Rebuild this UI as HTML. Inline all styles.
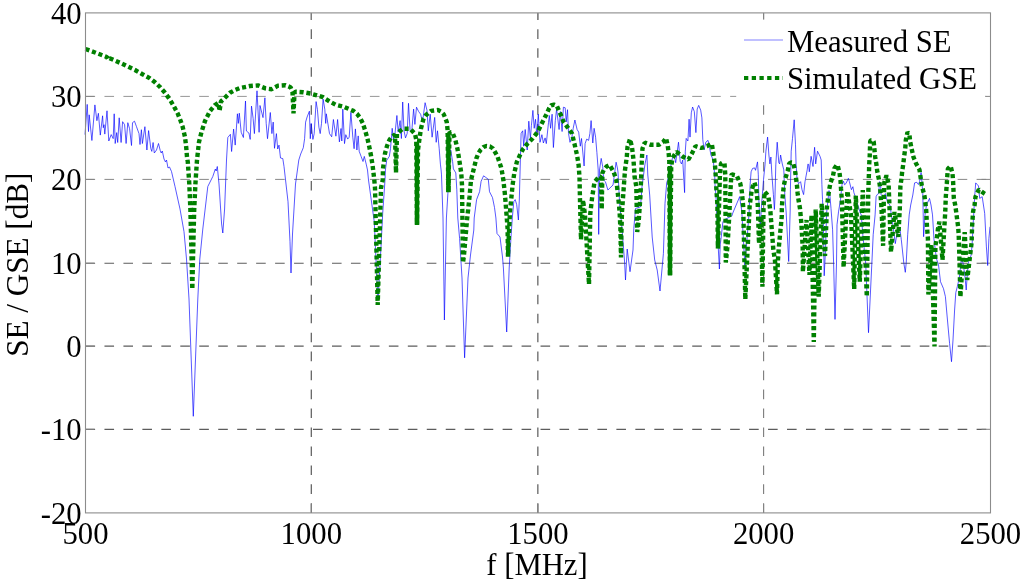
<!DOCTYPE html>
<html lang="en"><head><meta charset="utf-8"><title>SE / GSE plot</title>
<style>html,body{margin:0;padding:0;background:#fff}body{width:1024px;height:586px;overflow:hidden}svg{display:block}text{font-family:"Liberation Serif","Times New Roman",Times,serif;font-size:30.7px;fill:#000}</style>
</head><body>
<svg width="1024" height="586" viewBox="0 0 1024 586">
<rect width="1024" height="586" fill="#fff"/>
<g stroke="#5c5c5c" stroke-width="1.22" fill="none" stroke-dasharray="9.6 9.36">
<path d="M85.5 96.40 H990.5" stroke="#969696" stroke-width="1"/>
<path d="M85.5 179.40 H990.5" stroke="#888888" stroke-width="1"/>
<path d="M85.5 263.25 H990.5"/>
<path d="M85.5 346.20 H990.5"/>
<path d="M85.5 429.30 H990.5"/>
<path d="M311.30 512.9 V12.9"/>
<path d="M537.85 512.9 V12.9"/>
<path d="M763.60 512.9 V12.9" stroke="#7c7c7c" stroke-width="1.1"/>
</g>
<g stroke="#848484" stroke-width="1" fill="none">
<path d="M85.5 96.4 h9 M990.5 96.4 h-9"/>
<path d="M85.5 179.4 h9 M990.5 179.4 h-9"/>
<path d="M85.5 263.2 h9 M990.5 263.2 h-9"/>
<path d="M85.5 346.2 h9 M990.5 346.2 h-9"/>
<path d="M85.5 429.3 h9 M990.5 429.3 h-9"/>
<path d="M311.3 512.9 v-9 M311.3 12.9 v7"/>
<path d="M537.9 512.9 v-9 M537.9 12.9 v7"/>
<path d="M763.6 512.9 v-9 M763.6 12.9 v7"/>
</g>
<path id="measured" d="M85.0 134.6 L87.2 104.4 L88.5 131.6 L89.2 114.8 L91.9 140.5 L94.9 104.9 L96.9 120.7 L98.4 113.3 L100.3 135.1 L102.6 115.8 L103.3 127.7 L104.0 124.7 L104.8 134.1 L107.0 110.8 L108.8 141.0 L111.2 134.6 L113.2 138.6 L114.2 113.8 L115.2 143.5 L116.7 132.6 L117.7 142.5 L119.2 117.8 L121.1 142.5 L122.6 121.7 L124.6 124.7 L126.1 143.5 L127.8 122.7 L129.6 128.7 L131.5 145.5 L132.5 122.7 L134.5 121.2 L136.5 126.7 L139.0 133.6 L140.0 144.5 L141.4 129.7 L142.4 143.5 L144.9 126.7 L146.9 150.0 L148.6 130.6 L150.8 148.5 L151.8 151.4 L153.1 142.5 L154.3 153.0 L156.5 150.0 L158.5 143.5 L160.2 150.4 L161.2 153.0 L162.3 151.0 L164.0 159.0 L165.5 162.0 L166.5 160.0 L168.0 168.0 L169.5 167.0 L171.5 171.5 L175.0 186.5 L180.0 209.0 L184.0 231.7 L186.5 259.0 L189.0 299.0 L193.3 416.3 L197.8 299.0 L199.8 259.0 L202.8 229.0 L207.8 186.5 L212.8 176.5 L215.3 169.0 L216.2 171.0 L217.3 166.5 L219.0 184.0 L221.6 224.0 L222.8 233.0 L224.6 209.0 L226.5 160.0 L227.8 137.5 L230.4 134.3 L231.6 151.5 L233.6 129.1 L235.2 145.1 L237.4 113.8 L238.3 123.4 L239.3 113.2 L241.2 132.3 L243.4 137.5 L245.5 101.0 L246.4 131.0 L248.9 133.0 L250.2 139.4 L251.5 106.1 L253.1 118.3 L254.4 133.6 L257.0 90.8 L259.1 132.3 L260.0 105.5 L263.0 117.6 L264.9 97.8 L266.2 123.4 L267.5 138.7 L270.3 112.5 L271.9 133.6 L273.2 122.1 L274.5 148.3 L276.4 133.6 L277.7 149.0 L279.0 145.1 L280.5 158.0 L282.8 158.6 L284.0 166.5 L288.0 201.6 L290.0 241.7 L291.0 273.0 L292.5 234.0 L295.5 184.0 L298.8 160.0 L300.7 154.0 L303.3 147.7 L304.6 138.7 L305.6 122.1 L307.1 117.0 L309.4 111.2 L310.3 138.7 L311.2 123.4 L312.9 139.4 L314.2 133.6 L316.1 101.6 L317.4 109.3 L318.9 127.2 L320.2 133.6 L321.5 123.4 L323.1 99.1 L324.8 109.3 L325.7 123.4 L326.3 113.8 L329.5 133.6 L331.7 136.8 L333.4 119.5 L335.9 136.2 L337.6 119.5 L339.4 141.9 L341.0 128.5 L341.8 141.0 L342.8 109.1 L344.5 143.6 L345.8 134.7 L347.7 139.1 L349.2 137.2 L350.9 112.3 L352.8 137.2 L354.1 148.7 L355.4 128.9 L356.9 150.0 L358.2 135.9 L359.2 151.3 L361.1 156.4 L363.0 161.5 L364.3 156.4 L366.2 164.1 L367.5 170.0 L368.5 180.0 L374.3 222.0 L376.8 278.0 L378.0 300.0 L379.3 278.0 L381.0 247.0 L382.7 213.4 L385.0 180.0 L385.4 170.0 L386.7 160.3 L389.3 156.4 L390.5 148.7 L392.2 128.3 L393.5 139.8 L395.0 133.4 L396.9 115.5 L398.2 132.1 L400.1 120.6 L401.4 138.5 L402.7 102.0 L404.0 130.8 L405.5 137.9 L407.2 133.4 L408.5 103.3 L410.1 130.8 L411.7 132.1 L413.6 109.1 L414.9 124.4 L416.5 107.2 L418.7 111.6 L420.6 114.2 L422.5 121.9 L425.1 102.7 L427.0 110.4 L428.3 130.8 L430.2 114.2 L432.1 137.2 L434.7 117.4 L436.2 142.3 L437.5 130.8 L439.2 148.7 L440.4 164.1 L441.1 170.0 L441.5 174.9 L443.0 218.0 L444.4 320.0 L446.4 218.0 L447.9 193.4 L449.4 170.0 L450.7 150.0 L452.6 161.5 L453.4 168.9 L455.8 172.9 L456.8 189.7 L457.8 218.0 L459.6 238.5 L462.0 278.0 L464.6 357.8 L468.0 278.0 L470.5 255.0 L473.8 230.0 L474.2 218.0 L476.6 199.6 L479.6 191.7 L481.1 181.3 L483.6 175.8 L485.6 177.3 L488.3 179.3 L489.5 191.7 L492.5 197.6 L494.5 207.5 L495.9 218.0 L497.0 233.5 L500.0 237.0 L502.5 257.0 L503.4 268.0 L506.7 332.0 L509.2 268.0 L511.0 237.0 L512.3 218.0 L513.8 201.6 L515.2 199.6 L516.7 204.6 L518.4 220.0 L519.3 200.0 L520.1 170.0 L521.1 133.4 L522.7 130.8 L523.7 146.2 L525.2 129.5 L527.2 150.0 L528.8 121.2 L530.4 138.5 L531.4 125.7 L532.9 110.4 L534.2 128.3 L535.5 119.3 L536.8 135.9 L538.3 114.2 L540.0 142.3 L541.9 134.7 L543.4 143.0 L545.1 137.9 L546.3 143.6 L548.5 122.5 L549.3 115.5 L550.6 128.3 L552.1 114.2 L553.4 147.5 L555.3 120.6 L556.6 109.1 L559.1 129.5 L560.4 111.6 L562.1 131.5 L563.4 107.2 L565.2 107.8 L566.2 121.9 L567.5 109.7 L568.5 133.4 L570.0 142.3 L571.9 137.2 L573.2 128.3 L574.9 120.0 L577.1 129.5 L578.7 132.1 L580.3 146.2 L581.5 138.5 L584.1 166.0 L585.1 143.6 L586.7 139.1 L588.6 140.4 L589.9 133.4 L591.1 120.6 L592.8 143.0 L594.1 128.3 L595.6 137.2 L596.9 152.6 L598.2 170.0 L598.7 234.4 L599.5 170.0 L601.2 158.4 L602.7 166.7 L603.7 180.0 L605.4 181.7 L607.9 190.0 L613.0 185.0 L614.6 173.3 L616.1 162.2 L617.4 168.0 L618.0 172.0 L619.6 203.4 L622.0 228.5 L624.6 262.0 L625.5 280.0 L627.2 249.0 L630.0 271.7 L633.0 250.0 L633.8 228.5 L635.5 208.5 L640.5 206.8 L642.0 186.7 L645.0 164.0 L646.9 155.0 L647.8 175.0 L649.7 195.0 L652.2 237.0 L654.7 260.0 L657.2 270.0 L660.0 291.0 L663.4 253.6 L665.0 203.4 L666.7 183.0 L669.0 175.0 L671.0 165.0 L672.5 157.6 L674.4 156.3 L675.7 162.7 L678.5 142.2 L680.2 161.4 L681.5 164.0 L682.7 160.1 L684.6 192.6 L685.3 151.2 L686.2 138.4 L687.9 141.0 L689.1 119.2 L690.0 137.1 L691.3 112.8 L692.6 107.0 L694.3 111.5 L695.9 132.6 L697.2 109.0 L698.7 105.4 L700.7 110.2 L701.9 117.9 L702.8 139.7 L704.1 149.9 L705.8 142.2 L708.0 140.3 L709.6 147.3 L710.9 155.0 L712.2 157.6 L713.5 162.7 L714.7 175.0 L715.0 184.7 L716.0 196.6 L717.7 237.0 L719.4 269.0 L720.2 245.0 L720.9 239.7 L722.9 221.9 L724.9 219.4 L731.8 216.0 L732.8 213.0 L739.7 196.6 L740.7 204.5 L741.7 210.0 L744.9 265.4 L749.1 213.0 L750.1 184.7 L751.1 171.8 L752.6 168.4 L754.6 167.9 L755.5 170.3 L757.5 161.9 L758.3 174.8 L759.0 205.0 L760.3 226.0 L761.7 203.4 L763.5 179.8 L765.0 164.9 L765.9 151.2 L767.6 137.1 L768.9 155.0 L769.9 163.9 L770.9 157.0 L771.9 174.8 L773.4 194.6 L774.4 209.5 L774.9 199.6 L775.8 164.9 L777.2 142.2 L778.8 162.7 L779.6 163.9 L780.6 155.0 L782.3 164.0 L783.8 169.9 L784.8 194.6 L786.2 213.0 L788.7 261.5 L790.2 210.0 L790.4 189.7 L791.2 151.2 L792.5 138.4 L794.2 119.8 L795.5 144.8 L796.1 165.0 L797.1 179.8 L798.6 183.7 L800.6 181.7 L802.0 189.7 L803.6 194.6 L805.0 181.7 L807.2 169.9 L807.9 164.0 L808.6 164.4 L809.3 171.8 L811.1 156.3 L813.0 166.5 L814.6 147.3 L815.7 163.9 L817.5 151.2 L820.0 156.3 L821.2 160.0 L821.9 184.7 L822.5 199.6 L823.2 213.0 L824.2 275.8 L825.5 250.0 L826.6 213.0 L828.0 199.6 L829.0 190.6 L830.0 196.6 L831.0 208.5 L832.6 229.8 L833.6 263.0 L835.0 319.4 L836.5 263.0 L837.0 224.8 L838.5 211.9 L840.5 199.6 L842.0 184.7 L843.5 181.2 L844.5 184.7 L846.0 183.5 L848.4 178.3 L849.4 181.7 L851.4 189.7 L852.9 186.7 L853.9 192.6 L855.3 196.6 L858.3 206.5 L860.3 213.0 L861.3 214.9 L862.8 234.7 L864.3 249.6 L865.7 263.0 L868.5 332.7 L872.0 260.0 L873.2 234.7 L875.1 214.9 L876.1 196.6 L877.1 194.6 L878.6 193.6 L879.6 181.7 L880.6 184.7 L881.1 194.6 L883.0 197.0 L885.5 193.6 L887.5 202.5 L889.9 205.0 L892.9 224.8 L895.3 243.6 L896.8 234.7 L899.8 227.8 L901.3 239.7 L903.8 263.0 L905.3 272.3 L906.2 263.0 L907.7 234.7 L909.2 214.9 L910.7 205.0 L912.8 195.0 L914.6 182.9 L916.8 182.3 L918.4 184.5 L919.5 181.8 L921.1 172.5 L921.9 181.8 L922.8 193.4 L923.6 236.7 L925.0 214.9 L926.5 205.0 L929.5 198.4 L931.0 205.0 L932.5 214.9 L934.0 239.7 L936.4 258.5 L938.5 264.9 L940.5 281.7 L943.5 288.7 L945.4 296.6 L947.0 315.0 L949.6 343.6 L951.5 361.7 L953.0 340.0 L954.6 310.0 L955.8 292.6 L957.3 286.7 L959.3 277.8 L961.3 260.0 L962.8 262.0 L964.8 274.8 L966.2 290.0 L968.2 263.0 L971.2 255.0 L972.1 244.6 L973.1 224.8 L974.7 196.7 L975.7 182.9 L977.2 184.5 L978.5 186.0 L979.7 198.4 L982.2 196.7 L984.7 213.4 L986.4 246.9 L987.7 265.5 L988.9 238.5 L990.0 226.8" fill="none" stroke="#0000ff" stroke-width="0.66" stroke-linejoin="round"/>
<path id="simulated" d="M85.5 49.0 L95.0 52.5 L105.0 56.3 L107.0 57.2 L108.3 59.6 L109.6 58.2 L120.0 62.8 L135.0 70.0 L142.0 74.0 L150.0 78.4 L155.0 82.3 L160.0 87.0 L165.0 92.8 L170.0 99.7 L174.0 106.5 L177.7 113.5 L180.5 120.5 L182.7 127.0 L185.0 137.0 L186.2 147.0 L187.0 157.0 L187.8 162.0 L189.3 184.0 L190.4 210.0 L191.4 250.0 L192.3 289.3 L193.2 250.0 L194.2 210.0 L195.4 184.0 L197.0 160.0 L199.0 142.0 L201.5 132.0 L205.0 121.0 L210.0 111.0 L215.0 105.0 L218.3 102.8 L219.6 111.0 L220.9 101.5 L223.0 99.7 L230.0 92.7 L235.0 90.0 L240.0 88.0 L250.0 86.0 L258.0 85.4 L265.5 88.4 L271.7 89.2 L278.0 85.7 L285.5 85.2 L290.5 87.2 L292.5 92.0 L293.5 113.5 L294.5 93.0 L295.5 91.7 L303.0 92.2 L310.5 93.5 L323.0 97.2 L330.0 101.7 L335.6 104.7 L343.4 106.7 L353.4 110.9 L357.0 113.8 L360.0 117.6 L362.7 123.0 L365.0 130.0 L367.3 138.0 L369.3 146.9 L371.0 155.5 L372.6 165.3 L374.3 180.0 L375.0 188.0 L377.7 305.0 L381.0 188.0 L382.7 180.0 L383.0 168.6 L385.0 153.5 L387.0 146.0 L389.4 140.0 L392.0 136.5 L395.0 134.5 L396.0 172.8 L397.0 133.5 L402.7 128.8 L410.3 128.8 L415.0 133.8 L416.3 140.0 L417.0 225.0 L418.0 150.0 L419.5 138.5 L421.0 128.5 L423.6 118.4 L426.0 115.0 L431.0 110.9 L437.9 110.0 L441.0 111.5 L443.7 114.2 L446.7 121.8 L447.6 130.0 L448.4 192.5 L449.5 132.0 L453.0 133.8 L455.4 140.0 L457.4 148.5 L459.6 162.0 L461.3 173.6 L462.0 185.0 L463.0 262.8 L464.0 255.0 L467.0 220.0 L469.5 197.0 L471.0 180.0 L473.0 172.0 L476.3 158.6 L478.3 153.5 L480.5 150.0 L483.5 147.0 L486.4 146.0 L490.0 146.5 L493.0 148.5 L497.3 156.0 L501.0 167.0 L501.7 170.0 L503.4 180.3 L505.0 195.0 L507.6 228.5 L508.0 256.7 L508.4 245.0 L510.0 211.8 L512.6 185.0 L514.2 173.6 L516.8 162.0 L520.0 155.0 L523.4 148.5 L527.6 143.5 L532.6 138.5 L537.7 131.8 L541.8 123.4 L546.9 113.4 L549.0 108.5 L551.0 105.4 L554.0 104.6 L556.9 105.9 L560.2 113.4 L563.6 121.8 L567.8 127.6 L572.0 133.5 L574.4 143.5 L577.0 155.0 L578.6 165.0 L579.5 177.0 L580.0 200.0 L581.0 239.4 L583.0 200.0 L585.0 215.0 L589.0 284.3 L590.3 213.5 L592.0 198.4 L594.5 182.0 L598.7 177.0 L601.0 176.5 L601.7 209.3 L602.4 173.0 L603.7 170.0 L606.5 166.5 L609.6 165.0 L613.7 172.0 L616.3 180.0 L618.0 195.0 L619.6 211.8 L620.4 228.5 L621.0 257.5 L621.3 237.0 L622.0 211.8 L623.8 186.7 L625.0 170.0 L626.8 157.0 L627.5 147.0 L630.0 139.0 L632.0 147.0 L633.5 160.0 L634.6 177.0 L636.3 186.7 L637.2 232.0 L638.8 220.0 L640.5 195.0 L641.8 160.0 L642.5 148.5 L644.7 142.7 L650.8 144.8 L659.1 144.8 L663.0 142.0 L666.1 138.1 L667.8 146.1 L668.7 153.7 L669.3 161.4 L670.0 276.0 L671.2 166.5 L672.5 158.2 L676.4 151.8 L682.1 156.3 L688.5 159.5 L692.1 153.1 L695.5 146.1 L701.3 148.0 L707.1 146.1 L711.8 143.8 L713.1 151.8 L714.1 158.9 L715.1 166.5 L715.6 174.2 L716.4 189.7 L717.4 204.5 L717.9 248.6 L719.9 175.0 L721.0 163.5 L722.9 162.4 L724.5 163.5 L725.3 175.0 L725.8 262.5 L727.6 245.0 L729.3 215.0 L730.5 190.0 L731.3 175.3 L732.0 174.5 L736.7 175.5 L740.2 183.2 L741.7 190.6 L742.5 198.6 L743.2 206.5 L745.3 299.3 L749.6 206.5 L750.6 198.6 L751.6 191.0 L753.6 183.7 L754.5 182.5 L756.3 188.7 L757.0 196.0 L757.7 204.0 L758.0 211.4 L759.0 243.6 L761.0 216.0 L762.4 286.8 L763.5 208.5 L764.0 200.5 L764.7 191.7 L767.0 194.5 L768.4 196.6 L769.4 204.0 L770.4 211.4 L773.4 250.6 L774.9 259.5 L777.0 294.3 L777.8 262.5 L778.8 247.6 L780.3 231.8 L781.8 216.0 L781.8 209.0 L782.3 201.0 L783.0 193.6 L783.8 185.7 L785.4 178.3 L787.7 170.8 L789.2 163.4 L791.2 162.5 L793.2 162.9 L795.0 170.3 L796.0 177.8 L797.0 185.7 L797.6 193.0 L798.6 200.5 L800.0 208.5 L801.4 223.8 L802.7 247.6 L802.9 271.8 L806.5 220.0 L809.5 275.0 L811.5 215.0 L813.8 342.0 L815.7 209.5 L818.7 296.6 L821.7 203.5 L825.0 256.0 L827.0 206.5 L828.0 198.6 L829.0 190.6 L830.4 183.2 L833.0 175.8 L834.4 168.4 L836.7 165.0 L837.5 164.9 L839.5 172.8 L840.5 180.7 L841.0 188.7 L841.5 195.6 L842.0 203.5 L843.6 267.3 L847.4 191.0 L851.0 215.0 L854.2 289.0 L855.8 195.6 L859.8 281.7 L862.8 190.0 L866.8 296.7 L868.2 195.6 L868.7 179.8 L869.0 171.8 L869.2 164.4 L869.7 156.5 L870.2 141.2 L871.1 140.2 L872.8 140.2 L873.7 141.6 L875.1 156.5 L876.4 164.4 L877.3 171.8 L878.9 179.3 L880.1 187.2 L880.6 194.6 L881.1 202.5 L881.6 210.4 L883.1 245.8 L883.8 200.0 L884.3 182.7 L886.5 175.3 L888.6 184.0 L889.4 205.0 L890.2 230.0 L891.0 252.0 L894.5 212.0 L898.3 237.0 L899.3 218.0 L899.8 209.0 L900.4 186.2 L901.5 178.5 L902.2 171.4 L903.3 163.8 L904.2 156.1 L905.3 147.9 L905.8 140.3 L907.5 132.1 L909.4 134.3 L910.2 141.9 L911.8 149.6 L913.5 157.2 L916.2 163.8 L919.5 169.8 L920.6 177.4 L921.7 185.0 L924.5 196.0 L926.2 210.0 L927.0 226.8 L927.9 238.5 L928.4 294.5 L931.5 245.0 L934.5 346.5 L935.4 245.6 L936.9 237.7 L937.9 229.3 L939.4 221.8 L942.5 260.0 L943.9 234.7 L944.4 226.3 L945.3 211.0 L945.8 196.7 L946.8 184.0 L947.3 175.8 L947.9 168.7 L950.6 166.0 L952.5 173.6 L953.1 181.3 L953.4 188.4 L953.8 198.0 L955.2 205.0 L956.2 212.0 L957.2 219.9 L958.2 227.3 L958.7 235.2 L959.2 250.5 L960.4 297.0 L964.7 232.2 L967.2 280.0 L971.6 242.6 L972.1 226.3 L972.6 218.9 L973.1 211.4 L974.6 205.0 L975.5 196.7 L978.9 189.5 L984.7 193.8 L986.0 194.6" fill="none" stroke="#008000" stroke-width="4.4" stroke-dasharray="4.1 2.8" stroke-linejoin="bevel"/>
<path d="M417 142 V224.5 M448.4 134 V192 M670 166 V275.5" fill="none" stroke="#008000" stroke-width="4.4"/>
<rect x="736.2" y="19.6" width="249" height="84.6" fill="#fff"/>
<path d="M744 40 H783" stroke="#0000ff" stroke-width="0.5" fill="none"/>
<path d="M744 78 H783" stroke="#008000" stroke-width="4.2" stroke-dasharray="4.3 3.43" fill="none"/>
<text x="787" y="52.4">Measured SE</text>
<text x="787" y="89.3">Simulated GSE</text>
<rect x="85.5" y="12.9" width="905.0" height="500.0" fill="none" stroke="#8c8c8c" stroke-width="1.1"/>
<text x="81.7" y="23.6" text-anchor="end">40</text>
<text x="81.7" y="107.0" text-anchor="end">30</text>
<text x="81.7" y="190.3" text-anchor="end">20</text>
<text x="81.7" y="273.6" text-anchor="end">10</text>
<text x="81.7" y="357.0" text-anchor="end">0</text>
<text x="81.7" y="440.3" text-anchor="end">-10</text>
<text x="81.7" y="523.6" text-anchor="end">-20</text>
<text x="85.5" y="543.5" text-anchor="middle">500</text>
<text x="311.3" y="543.5" text-anchor="middle">1000</text>
<text x="537.9" y="543.5" text-anchor="middle">1500</text>
<text x="763.6" y="543.5" text-anchor="middle">2000</text>
<text x="990.5" y="543.5" text-anchor="middle">2500</text>
<text x="537" y="574.8" text-anchor="middle">f [MHz]</text>
<text transform="translate(27.7 264.7) rotate(-90)" text-anchor="middle" style="font-size:31.15px">SE / GSE [dB]</text>
</svg></body></html>
